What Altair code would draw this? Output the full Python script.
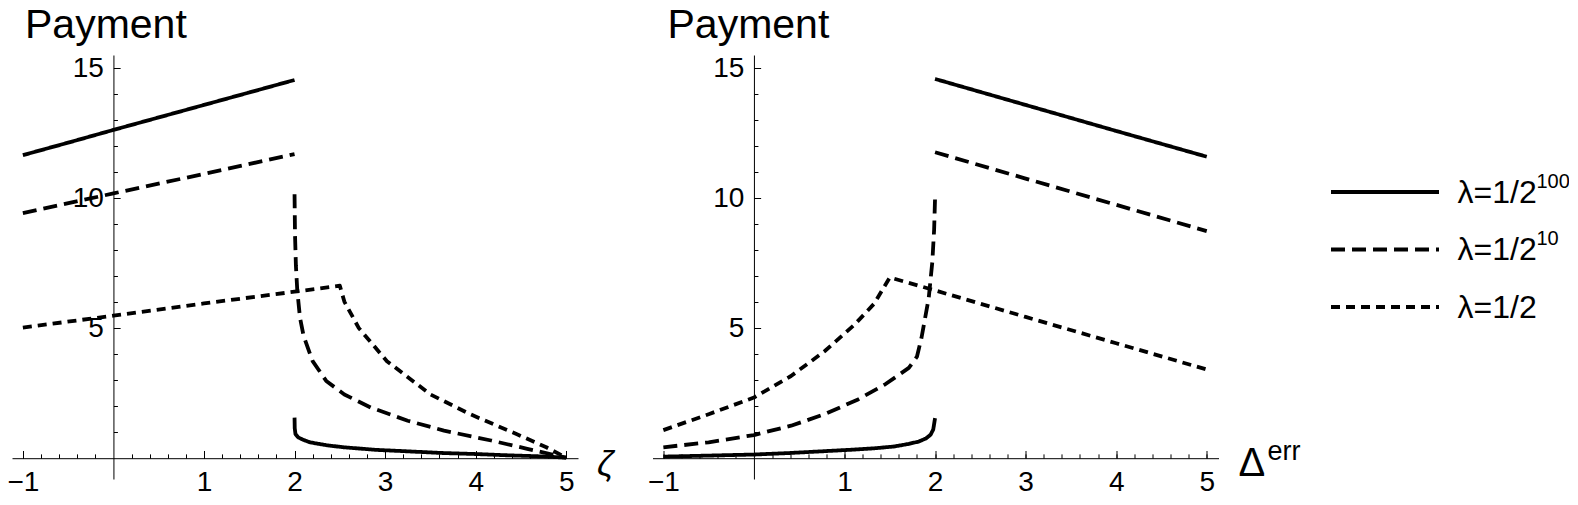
import altair as alt
import pandas as pd

FONT = "Liberation Sans"

SERIES = ["lam100", "lam10", "lam2"]
LEGEND_ROW = [0, 1, 2]
LEGEND_BASE = ["λ=1/2", "λ=1/2", "λ=1/2"]
LEGEND_SUP = ["100", "10", ""]
DASHES = [[1, 0], [14, 7], [9, 6]]

X_MAJOR = [-1, 1, 2, 3, 4, 5]
X_MINOR = [-1.0, -0.8, -0.6, -0.4, -0.2, 0.2, 0.4, 0.6, 0.8, 1.0, 1.2, 1.4, 1.6, 1.8,
           2.0, 2.2, 2.4, 2.6, 2.8, 3.0, 3.2, 3.4, 3.6, 3.8, 4.0, 4.2, 4.4, 4.6, 4.8, 5.0]
Y_MAJOR = [5, 10, 15]
Y_MINOR = [1, 2, 3, 4, 5, 6, 7, 8, 9, 10, 11, 12, 13, 14, 15]

# ---- left panel (zeta) ----
L_SOLID_A_X = [-1, -0.5, 0, 0.5, 1, 1.5, 2]
L_SOLID_A_Y = [11.65, 12.13, 12.62, 13.1, 13.58, 14.06, 14.54]
L_SOLID_B_X = [2.0, 2.002, 2.01, 2.04, 2.1, 2.17, 2.35, 2.54, 2.9, 3.27, 3.63, 4.0, 4.36, 4.73, 5.0]
L_SOLID_B_Y = [1.56, 1.15, 0.93, 0.8, 0.7, 0.61, 0.5, 0.42, 0.32, 0.26, 0.2, 0.16, 0.11, 0.07, 0.02]
L_DASH_A_X = [-1, 0, 1, 2]
L_DASH_A_Y = [9.42, 10.18, 10.93, 11.69]
L_DASH_B_X = [2.0, 2.005, 2.015, 2.03, 2.06, 2.1, 2.2, 2.35, 2.55, 2.84, 3.25, 3.65, 4.17, 4.57, 5.0]
L_DASH_B_Y = [10.15, 8.6, 7.4, 6.46, 5.4, 4.7, 3.73, 2.97, 2.45, 1.95, 1.44, 1.06, 0.68, 0.36, 0.02]
L_DOT_X = [-1, 0, 1, 2, 2.5, 2.55, 2.71, 3.02, 3.5, 3.94, 4.45, 4.78, 5.0]
L_DOT_Y = [5.02, 5.48, 5.95, 6.4, 6.63, 6.02, 5.0, 3.73, 2.45, 1.69, 0.93, 0.42, 0.02]

# ---- right panel (Delta err) ----
R_SOLID_A_X = [-1, -0.5, 0, 0.4, 0.78, 1.1, 1.33, 1.55, 1.71, 1.82, 1.9, 1.95, 1.98, 2.0]
R_SOLID_A_Y = [0.06, 0.1, 0.14, 0.2, 0.27, 0.33, 0.38, 0.45, 0.55, 0.64, 0.76, 0.9, 1.1, 1.54]
R_SOLID_B_X = [2, 3, 4, 5]
R_SOLID_B_Y = [14.58, 13.58, 12.58, 11.59]
R_DASH_A_X = [-1, -0.5, 0, 0.41, 0.78, 1.15, 1.45, 1.71, 1.8, 1.85, 1.93, 1.97, 1.99, 2.0]
R_DASH_A_Y = [0.42, 0.61, 0.89, 1.25, 1.69, 2.26, 2.84, 3.47, 3.9, 4.62, 6.15, 7.55, 8.8, 10.0]
R_DASH_B_X = [2, 3, 4, 5]
R_DASH_B_Y = [11.76, 10.75, 9.74, 8.73]
R_DOT_X = [-1, -0.5, 0, 0.41, 0.78, 1.0, 1.11, 1.33, 1.5, 2, 3, 4, 5]
R_DOT_Y = [1.08, 1.69, 2.33, 3.16, 4.11, 4.79, 5.13, 5.95, 6.95, 6.45, 5.43, 4.42, 3.41]

# ---- layout (styles only) ----
W, H = 566, 424
XDOM = [-1.12, 5.13]
YDOM = [-0.8, 15.5]
SPACING = 74.5
LW = 260
X0_FROM_LEFT = W * (0 - XDOM[0]) / (XDOM[1] - XDOM[0])
Y0_FROM_BOTTOM = H * (0 - YDOM[0]) / (YDOM[1] - YDOM[0])


def build(segments):
    rows = []
    for series, seg, xs, ys in segments:
        for i, (xv, yv) in enumerate(zip(xs, ys)):
            rows.append({"series": series, "seg": seg, "i": i, "x": xv, "y": yv})
    return pd.DataFrame(rows)


left_df = build([
    ("lam100", "s_a", L_SOLID_A_X, L_SOLID_A_Y),
    ("lam100", "s_b", L_SOLID_B_X, L_SOLID_B_Y),
    ("lam10", "d_a", L_DASH_A_X, L_DASH_A_Y),
    ("lam10", "d_b", L_DASH_B_X, L_DASH_B_Y),
    ("lam2", "o_a", L_DOT_X, L_DOT_Y),
])
right_df = build([
    ("lam100", "s_a", R_SOLID_A_X, R_SOLID_A_Y),
    ("lam100", "s_b", R_SOLID_B_X, R_SOLID_B_Y),
    ("lam10", "d_a", R_DASH_A_X, R_DASH_A_Y),
    ("lam10", "d_b", R_DASH_B_X, R_DASH_B_Y),
    ("lam2", "o_a", R_DOT_X, R_DOT_Y),
])


def text_layer(txt, px, py, size, style="normal"):
    return alt.Chart(pd.DataFrame({"t": [txt]})).mark_text(
        align="left", baseline="alphabetic", font=FONT, fontSize=size,
        fontStyle=style, color="black").encode(
        x=alt.value(px), y=alt.value(py), text="t:N")


def panel(df, annotations):
    xs = alt.Scale(domain=XDOM, nice=False, zero=False)
    ys = alt.Scale(domain=YDOM, nice=False, zero=False)
    base = alt.Chart(df)

    label_x = alt.Axis(orient="bottom", offset=-Y0_FROM_BOTTOM, values=X_MAJOR, ticks=False,
                       tickSize=0, labelPadding=10, labelBaseline="top", labelFont=FONT,
                       labelFontSize=28, labelColor="black", domainColor="black",
                       domainWidth=1, grid=False, title=None, labelOverlap=False,
                       labelFlush=False)
    label_y = alt.Axis(orient="left", offset=-X0_FROM_LEFT, values=Y_MAJOR, ticks=False,
                       tickSize=0, labelPadding=10, labelFont=FONT, labelFontSize=28,
                       labelColor="black", domainColor="black", domainWidth=1, grid=False,
                       title=None, labelOverlap=False, labelFlush=False)

    def tick_axes(xvals, xsize, yvals, ysize):
        ax = alt.Axis(orient="top", offset=-(H - Y0_FROM_BOTTOM), values=xvals, labels=False,
                      domain=False, tickSize=xsize, tickColor="black", tickWidth=1,
                      grid=False, title=None)
        ay = alt.Axis(orient="right", offset=-(W - X0_FROM_LEFT), values=yvals, labels=False,
                      domain=False, tickSize=ysize, tickColor="black", tickWidth=1,
                      grid=False, title=None)
        return ax, ay

    ax_min, ay_min = tick_axes(X_MINOR, 4.3, Y_MINOR, 4)
    ax_maj, ay_maj = tick_axes(X_MAJOR, 7.7, Y_MAJOR, 6.7)

    minor = base.mark_line(strokeOpacity=0).encode(
        x=alt.X("x:Q", scale=xs, axis=ax_min), y=alt.Y("y:Q", scale=ys, axis=ay_min),
        detail="seg:N")
    major = base.mark_line(strokeOpacity=0).encode(
        x=alt.X("x:Q", scale=xs, axis=ax_maj), y=alt.Y("y:Q", scale=ys, axis=ay_maj),
        detail="seg:N")
    lines = base.mark_line(color="black", strokeWidth=3.8, strokeCap="butt",
                           strokeJoin="round").encode(
        x=alt.X("x:Q", scale=xs, axis=label_x),
        y=alt.Y("y:Q", scale=ys, axis=label_y),
        strokeDash=alt.StrokeDash("series:N", scale=alt.Scale(domain=SERIES, range=DASHES),
                                  legend=None),
        detail="seg:N",
        order=alt.Order("i:Q"),
    )
    layers = [minor, major, lines]
    for args in annotations:
        layers.append(text_layer(*args))
    return alt.layer(*layers).resolve_axis(x="independent", y="independent").properties(
        width=W, height=H)


left = panel(left_df, [("Payment", 13, -17, 41),
                       ("ζ", 585, 421, 36, "italic")])
right = panel(right_df, [("Payment", 15, -17, 41),
                         ("Δ", 586, 421, 40), ("err", 615, 405, 27)])

leg_df = pd.DataFrame({"series": SERIES, "row": LEGEND_ROW, "base": LEGEND_BASE,
                       "sup": LEGEND_SUP})
leg_y = alt.Y("row:Q", scale=alt.Scale(domain=[0, 2], range=[136.9, 251.9], nice=False,
                                       zero=False), axis=None)
leg_base = alt.Chart(leg_df)
leg_lines = leg_base.mark_rule(color="black", strokeWidth=4, strokeCap="butt").encode(
    x=alt.value(38), x2=alt.value(146), y=leg_y,
    strokeDash=alt.StrokeDash("series:N", scale=alt.Scale(domain=SERIES, range=DASHES),
                              legend=None))
leg_text = leg_base.mark_text(align="left", baseline="alphabetic", dy=11, font=FONT,
                              fontSize=32, color="black").encode(
    x=alt.value(164.5), y=leg_y, text="base:N")
leg_sup = leg_base.mark_text(align="left", baseline="alphabetic", dy=-4, font=FONT,
                             fontSize=20, color="black").encode(
    x=alt.value(243.5), y=leg_y, text="sup:N")
legend = alt.layer(leg_lines, leg_text, leg_sup).properties(width=LW, height=H)

chart = alt.hconcat(left, right, legend, spacing=SPACING, bounds="flush").properties(
    padding={"left": -2, "top": -3, "right": -1, "bottom": 0},
).configure_view(strokeWidth=0)

chart.save("out.html", embed_options={"renderer": "svg", "actions": False})
